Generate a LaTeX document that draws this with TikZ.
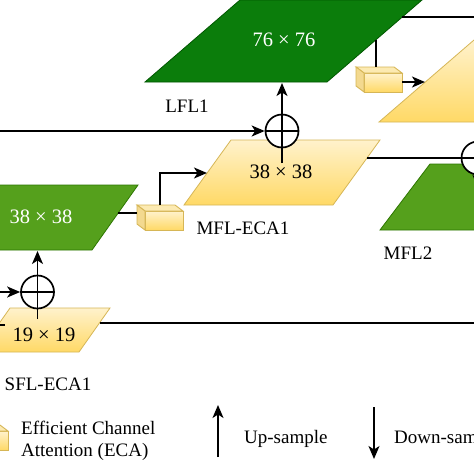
\documentclass[tikz,border=0pt]{standalone}
\usepackage{fontspec}
\setmainfont{Liberation Serif}
\usetikzlibrary{arrows.meta}
\definecolor{gdark}{HTML}{0B7D0B}
\definecolor{gdarkline}{HTML}{005700}
\definecolor{glight}{HTML}{55A01C}
\definecolor{glightline}{HTML}{2D7600}
\definecolor{ytop}{HTML}{FFF2CC}
\definecolor{ybot}{HTML}{FFD966}
\definecolor{yline}{HTML}{D6B656}
\definecolor{cubetop}{HTML}{FCEAB2}
\definecolor{cubeside}{HTML}{F3D98F}
\tikzset{
  greendark/.style={fill=gdark, draw=gdarkline, line width=0.8pt},
  greenlight/.style={fill=glight, draw=glightline, line width=0.8pt},
  yellowshape/.style={top color=ytop, bottom color=ybot, draw=yline, line width=0.8pt},
  conn/.style={line width=1.6pt, draw=black},
  arr/.style={conn, -{Stealth[length=13pt,width=11pt,inset=3.5pt]}},
  sumnode/.style={circle, draw, line width=1.7pt, fill=white, minimum size=33pt, inner sep=0pt},
  lbl/.style={font=\fontsize{19}{22}\selectfont, inner sep=0pt},
  numw/.style={font=\fontsize{20.5}{24}\selectfont, text=white, inner sep=0pt},
  numk/.style={font=\fontsize{20.5}{24}\selectfont, text=black, inner sep=0pt},
  ecacube/.pic={
    \shade[top color=ytop, bottom color=ybot, draw=yline, line width=0.9pt] (8,6) rectangle (46,25);
    \filldraw[fill=cubetop, draw=yline, line width=0.9pt] (0,0) -- (38,0) -- (46,6) -- (8,6) -- cycle;
    \filldraw[fill=cubeside, draw=yline, line width=0.9pt] (0,0) -- (8,6) -- (8,25) -- (0,19) -- cycle;
    \coordinate (-left) at (0,8);
    \coordinate (-right) at (46,15);
  }
}
\begin{document}
\begin{tikzpicture}[x=1pt,y=-1pt]
\useasboundingbox (0,0) rectangle (474,474);
\clip (0,0) rectangle (474,474);
\fill[white] (0,0) rectangle (474,474);

% ---- shapes ----
\path[greendark] (145,82) -- (327,82) -- (422,0) -- (240,0) -- cycle;
\node[numw] (n76) at (284,40) {76 × 76};
\node[lbl] (lfl1) at (187,106) {LFL1};

\path[yellowshape] (379,122) -- (570,122) -- (665,40) -- (474,40) -- cycle;

\path[yellowshape] (184,205) -- (333,205) -- (380,140) -- (231,140) -- cycle;
\node[numk] (n38m) at (281,172) {38 × 38};
\node[lbl] (mfleca1) at (243,228) {MFL-ECA1};

\path[greenlight] (380,230) -- (560,230) -- (610,164) -- (430,164) -- cycle;
\node[lbl] (mfl2) at (408,253) {MFL2};

\path[greenlight] (-57,250) -- (92,250) -- (138,185) -- (-11,185) -- cycle;
\node[numw] (n38l) at (41,217) {38 × 38};

\path[yellowshape] (-21,352) -- (79,352) -- (110,308) -- (10,308) -- cycle;
\node[numk] (n19) at (44,335) {19 × 19};
\node[lbl] (sfleca1) at (48,384) {SFL-ECA1};

% ---- ECA cubes ----
\pic (ecaA) at (356,67) {ecacube};
\pic (ecaB) at (137,205) {ecacube};
\pic (ecaL) at (-38,425) {ecacube};

% ---- coordinates ----
\coordinate (lflR) at (402,17);
\coordinate (edgeR1) at (474,17);
\coordinate (lflB) at (376,40);
\coordinate (ecaAtop) at (376,67);
\coordinate (yrIn) at (425,82);
\coordinate (inTop) at (0,131);
\coordinate (v1s) at (282,163);
\coordinate (v1e) at (282,83);
\coordinate (mflR) at (367,158);
\coordinate (dn2) at (478,188);
\coordinate (gL) at (118,213);
\coordinate (ecaBtop) at (160,205);
\coordinate (mflIn) at (207,173);
\coordinate (inBot) at (0,292);
\coordinate (v3s) at (37.5,319);
\coordinate (v3e) at (37.5,251);
\coordinate (sflR) at (99.5,323);
\coordinate (edgeR2) at (474,323);
\coordinate (stubA) at (0,325);
\coordinate (stubB) at (5,325);

% ---- sum nodes ----
\node[sumnode] (p1) at (282,131) {};
\node[sumnode] (p2) at (478,158) {};
\node[sumnode] (p3) at (37.5,292) {};

% ---- connectors ----
\draw[conn] (lflR) -- (edgeR1);
\draw[conn] (lflB) -- (ecaAtop);
\draw[arr] (ecaA-right) -- (yrIn);

\draw[arr] (inTop) -- (p1.west);
\draw[conn] (p1.west) -- (p1.east);
\draw[arr] (v1s) -- (v1e);

\draw[conn] (mflR) -- (p2.west);
\draw[conn] (p2.west) -- (p2.east);
\draw[conn] (p2.north) -- (p2.south);
\draw[arr] (p2.south) -- (dn2);

\draw[conn] (gL) -- (ecaB-left);
\draw[arr] (ecaBtop) |- (mflIn);

\draw[arr] (inBot) -- (p3.west);
\draw[conn] (p3.west) -- (p3.east);
\draw[arr] (v3s) -- (v3e);

\draw[conn] (sflR) -- (edgeR2);
\draw[conn] (stubA) -- (stubB);

% ---- legend ----
\node[lbl, anchor=west, align=left] (legtxt) at (21,441) {Efficient Channel\\Attention (ECA)};
\coordinate (upS) at (218,457);
\coordinate (upE) at (218,405);
\draw[arr] (upS) -- (upE);
\node[lbl, anchor=west] (uptxt) at (244,439) {Up-sample};
\coordinate (dnS) at (374,407);
\coordinate (dnE) at (374,459);
\draw[arr] (dnS) -- (dnE);
\node[lbl, anchor=west] (dntxt) at (394,439) {Down-sample};
\end{tikzpicture}
\end{document}
